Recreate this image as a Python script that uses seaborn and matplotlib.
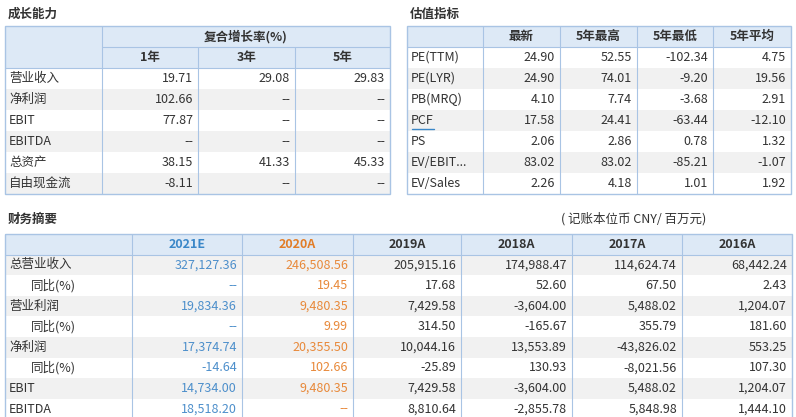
import matplotlib
matplotlib.use('Agg')
import matplotlib.pyplot as plt
from matplotlib.patches import Rectangle
import seaborn as sns

sns.set_theme(style='white')
plt.rcParams['font.family'] = ['Noto Sans CJK SC', 'DejaVu Sans']

# ---- data ----
growth_cols = ['1年', '3年', '5年']
growth_rows = ['营业收入', '净利润', 'EBIT', 'EBITDA', '总资产', '自由现金流']
growth_1y = ['19.71', '102.66', '77.87', '--', '38.15', '-8.11']
growth_3y = ['29.08', '--', '--', '--', '41.33', '--']
growth_5y = ['29.83', '--', '--', '--', '45.33', '--']

val_cols = ['最新', '5年最高', '5年最低', '5年平均']
val_rows = ['PE(TTM)', 'PE(LYR)', 'PB(MRQ)', 'PCF', 'PS', 'EV/EBIT...', 'EV/Sales']
val_latest = ['24.90', '24.90', '4.10', '17.58', '2.06', '83.02', '2.26']
val_high = ['52.55', '74.01', '7.74', '24.41', '2.86', '83.02', '4.18']
val_low = ['-102.34', '-9.20', '-3.68', '-63.44', '0.78', '-85.21', '1.01']
val_avg = ['4.75', '19.56', '2.91', '-12.10', '1.32', '-1.07', '1.92']

fin_cols = ['2021E', '2020A', '2019A', '2018A', '2017A', '2016A']
fin_rows = ['总营业收入', '同比(%)', '营业利润', '同比(%)', '净利润', '同比(%)', 'EBIT', 'EBITDA']
fin_2021 = ['327,127.36', '--', '19,834.36', '--', '17,374.74', '-14.64', '14,734.00', '18,518.20']
fin_2020 = ['246,508.56', '19.45', '9,480.35', '9.99', '20,355.50', '102.66', '9,480.35', '--']
fin_2019 = ['205,915.16', '17.68', '7,429.58', '314.50', '10,044.16', '-25.89', '7,429.58', '8,810.64']
fin_2018 = ['174,988.47', '52.60', '-3,604.00', '-165.67', '13,553.89', '130.93', '-3,604.00', '-2,855.78']
fin_2017 = ['114,624.74', '67.50', '5,488.02', '355.79', '-43,826.02', '-8,021.56', '5,488.02', '5,848.98']
fin_2016 = ['68,442.24', '2.43', '1,204.07', '181.60', '553.25', '107.30', '1,204.07', '1,444.10']

HEAD_BG = '#dde9f6'
BORDER = '#a9c4e4'
STRIPE = '#f1f1f1'
TEXT = '#333333'
BLUE = '#3a87c8'
ORANGE = '#e27d27'
BLUE_V = '#4d8fcb'
ORANGE_V = '#e8893a'

fig = plt.figure(figsize=(7.96, 4.17), dpi=100)
ax = fig.add_axes([0, 0, 1, 1])
ax.set_xlim(0, 796)
ax.set_ylim(417, 0)
ax.axis('off')
fs = 9


def draw_table(x_edges, y_top, head_h, row_h, labels, cols_data, headers,
               stripe_start, label_indent=None, head_colors=None, val_colors=None,
               extra_head=None):
    x0, x1 = x_edges[0], x_edges[-1]
    n = len(labels)
    total_head = head_h * (2 if extra_head else 1)
    ax.add_patch(Rectangle((x0, y_top), x1 - x0, total_head, fc=HEAD_BG, ec='none'))
    yh = y_top
    if extra_head:
        ax.text((x_edges[1] + x1) / 2, yh + head_h / 2, extra_head, ha='center', va='center',
                fontsize=fs, fontweight='bold', color=TEXT)
        ax.plot([x_edges[1], x1], [yh + head_h] * 2, color=BORDER, lw=0.8)
        yh += head_h
    for j, h in enumerate(headers):
        c = head_colors[j] if head_colors else TEXT
        ax.text((x_edges[j + 1] + x_edges[j + 2]) / 2, yh + head_h / 2, h, ha='center',
                va='center', fontsize=fs, fontweight='bold', color=c)
    yb = y_top + total_head
    for i, lab in enumerate(labels):
        yy = yb + i * row_h
        if (i - stripe_start) % 2 == 0:
            ax.add_patch(Rectangle((x0, yy), x1 - x0, row_h, fc=STRIPE, ec='none'))
        ind = label_indent[i] if label_indent else 0
        ax.text(x0 + 4 + ind, yy + row_h / 2, lab, ha='left', va='center', fontsize=fs, color=TEXT)
        for j, col in enumerate(cols_data):
            c = val_colors[j] if val_colors else TEXT
            ax.text(x_edges[j + 2] - 5, yy + row_h / 2, col[i], ha='right', va='center',
                    fontsize=fs, color=c, family=['DejaVu Sans'] if col[i] == '--' else None)
    y_end = yb + n * row_h
    ax.add_patch(Rectangle((x0, y_top), x1 - x0, y_end - y_top, fc='none', ec=BORDER, lw=1))
    for k, xe in enumerate(x_edges[1:-1]):
        ys = y_top + (head_h if (extra_head and k > 0) else 0)
        ax.plot([xe, xe], [ys, y_end], color=BORDER, lw=0.8)
    ax.plot([x0, x1], [yb, yb], color=BORDER, lw=0.8)
    return yb


ax.text(8, 14, '成长能力', fontsize=fs, fontweight='bold', va='center', color=TEXT)
draw_table([5, 102, 198, 295, 390], 26, 21, 21, growth_rows,
           [growth_1y, growth_3y, growth_5y], growth_cols, stripe_start=1,
           extra_head='复合增长率(%)')

ax.text(410, 14, '估值指标', fontsize=fs, fontweight='bold', va='center', color=TEXT)
yb = draw_table([407, 483, 560, 637, 713, 791], 26, 21, 21, val_rows,
                [val_latest, val_high, val_low, val_avg], val_cols, stripe_start=1)
# PCF link underline
ax.plot([412, 434], [yb + 3 * 21 + 18.5] * 2, color=BLUE, lw=1)

ax.text(8, 219, '财务摘要', fontsize=fs, fontweight='bold', va='center', color=TEXT)
ax.text(561, 219, '( 记账本位币 CNY/ 百万元)', fontsize=fs, va='center', color=TEXT)
draw_table([5, 132, 242, 353, 461, 572, 682, 792], 234, 20.5, 20.6, fin_rows,
           [fin_2021, fin_2020, fin_2019, fin_2018, fin_2017, fin_2016], fin_cols,
           stripe_start=0, label_indent=[0, 22, 0, 22, 0, 22, 0, 0],
           head_colors=[BLUE, ORANGE, TEXT, TEXT, TEXT, TEXT],
           val_colors=[BLUE_V, ORANGE_V, TEXT, TEXT, TEXT, TEXT])

fig.savefig('out.png', dpi=100, facecolor='white')
